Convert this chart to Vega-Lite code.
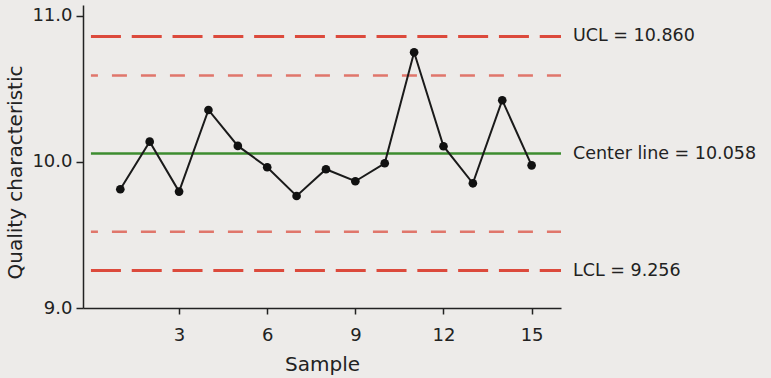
{
  "$schema": "https://vega.github.io/schema/vega-lite/v6.json",
  "width": 478,
  "height": 303,
  "autosize": {"type": "none"},
  "padding": {"left": 83, "top": 5, "right": 210, "bottom": 70},
  "background": "#edebe9",
  "config": {
    "view": {"stroke": null},
    "font": "DejaVu Sans",
    "axis": {
      "grid": false,
      "domainColor": "#222222",
      "domainWidth": 1.5,
      "tickColor": "#222222",
      "tickWidth": 1.5,
      "tickSize": 6,
      "labelFont": "DejaVu Sans",
      "labelFontSize": 18,
      "labelColor": "#222222",
      "titleFont": "DejaVu Sans",
      "titleFontSize": 20,
      "titleFontWeight": "normal",
      "titleColor": "#222222"
    }
  },
  "datasets": {
    "samples": [
      {"sample": 1, "value": 9.813},
      {"sample": 2, "value": 10.139},
      {"sample": 3, "value": 9.797},
      {"sample": 4, "value": 10.356},
      {"sample": 5, "value": 10.11},
      {"sample": 6, "value": 9.964},
      {"sample": 7, "value": 9.767},
      {"sample": 8, "value": 9.95},
      {"sample": 9, "value": 9.868},
      {"sample": 10, "value": 9.991},
      {"sample": 11, "value": 10.751},
      {"sample": 12, "value": 10.108},
      {"sample": 13, "value": 9.854},
      {"sample": 14, "value": 10.423},
      {"sample": 15, "value": 9.977}
    ],
    "limits": [
      {"kind": "control", "value": 10.86, "label": "UCL = 10.860"},
      {"kind": "warning", "value": 10.593, "label": ""},
      {"kind": "center", "value": 10.058, "label": "Center line = 10.058"},
      {"kind": "warning", "value": 9.523, "label": ""},
      {"kind": "control", "value": 9.256, "label": "LCL = 9.256"}
    ]
  },
  "layer": [
    {
      "data": {"name": "limits"},
      "transform": [{"filter": "datum.kind === 'control'"}],
      "mark": {"type": "rule", "color": "#dc4a3c", "strokeWidth": 3, "strokeDash": [30, 10.8]},
      "encoding": {
        "x": {"datum": 0, "type": "quantitative", "scale": {"domain": [-0.27, 16], "nice": false, "zero": false}, "axis": {"values": [3, 6, 9, 12, 15], "title": "Sample", "labelPadding": 12, "titlePadding": 10}},
        "x2": {"datum": 16},
        "y": {"field": "value", "type": "quantitative", "scale": {"domain": [9, 11.075], "nice": false, "zero": false}, "axis": {"values": [9, 10, 11], "format": ".1f", "title": "Quality characteristic", "tickSize": 7, "labelPadding": 4, "titleY": 167, "titleX": -68, "titleBaseline": "middle"}}
      }
    },
    {
      "data": {"name": "limits"},
      "transform": [{"filter": "datum.kind === 'warning'"}],
      "mark": {"type": "rule", "color": "#e0766b", "strokeWidth": 2.5, "strokeDash": [15, 14], "strokeDashOffset": 8},
      "encoding": {
        "x": {"datum": 0, "type": "quantitative"},
        "x2": {"datum": 16},
        "y": {"field": "value", "type": "quantitative"}
      }
    },
    {
      "data": {"name": "limits"},
      "transform": [{"filter": "datum.kind === 'center'"}],
      "mark": {"type": "rule", "color": "#3d8c2f", "strokeWidth": 2.5},
      "encoding": {
        "x": {"datum": 0, "type": "quantitative"},
        "x2": {"datum": 16},
        "y": {"field": "value", "type": "quantitative"}
      }
    },
    {
      "data": {"name": "samples"},
      "mark": {"type": "line", "color": "#1a1a1a", "strokeWidth": 2},
      "encoding": {
        "x": {"field": "sample", "type": "quantitative"},
        "y": {"field": "value", "type": "quantitative"}
      }
    },
    {
      "data": {"name": "samples"},
      "mark": {"type": "point", "filled": true, "color": "#111111", "size": 75, "opacity": 1},
      "encoding": {
        "x": {"field": "sample", "type": "quantitative"},
        "y": {"field": "value", "type": "quantitative"}
      }
    },
    {
      "data": {"name": "limits"},
      "transform": [{"filter": "datum.label !== ''"}],
      "mark": {"type": "text", "align": "left", "baseline": "middle", "dx": 12, "fontSize": 17.5, "font": "DejaVu Sans", "color": "#222222", "clip": false},
      "encoding": {
        "x": {"datum": 16, "type": "quantitative"},
        "y": {"field": "value", "type": "quantitative"},
        "text": {"field": "label"}
      }
    }
  ]
}
